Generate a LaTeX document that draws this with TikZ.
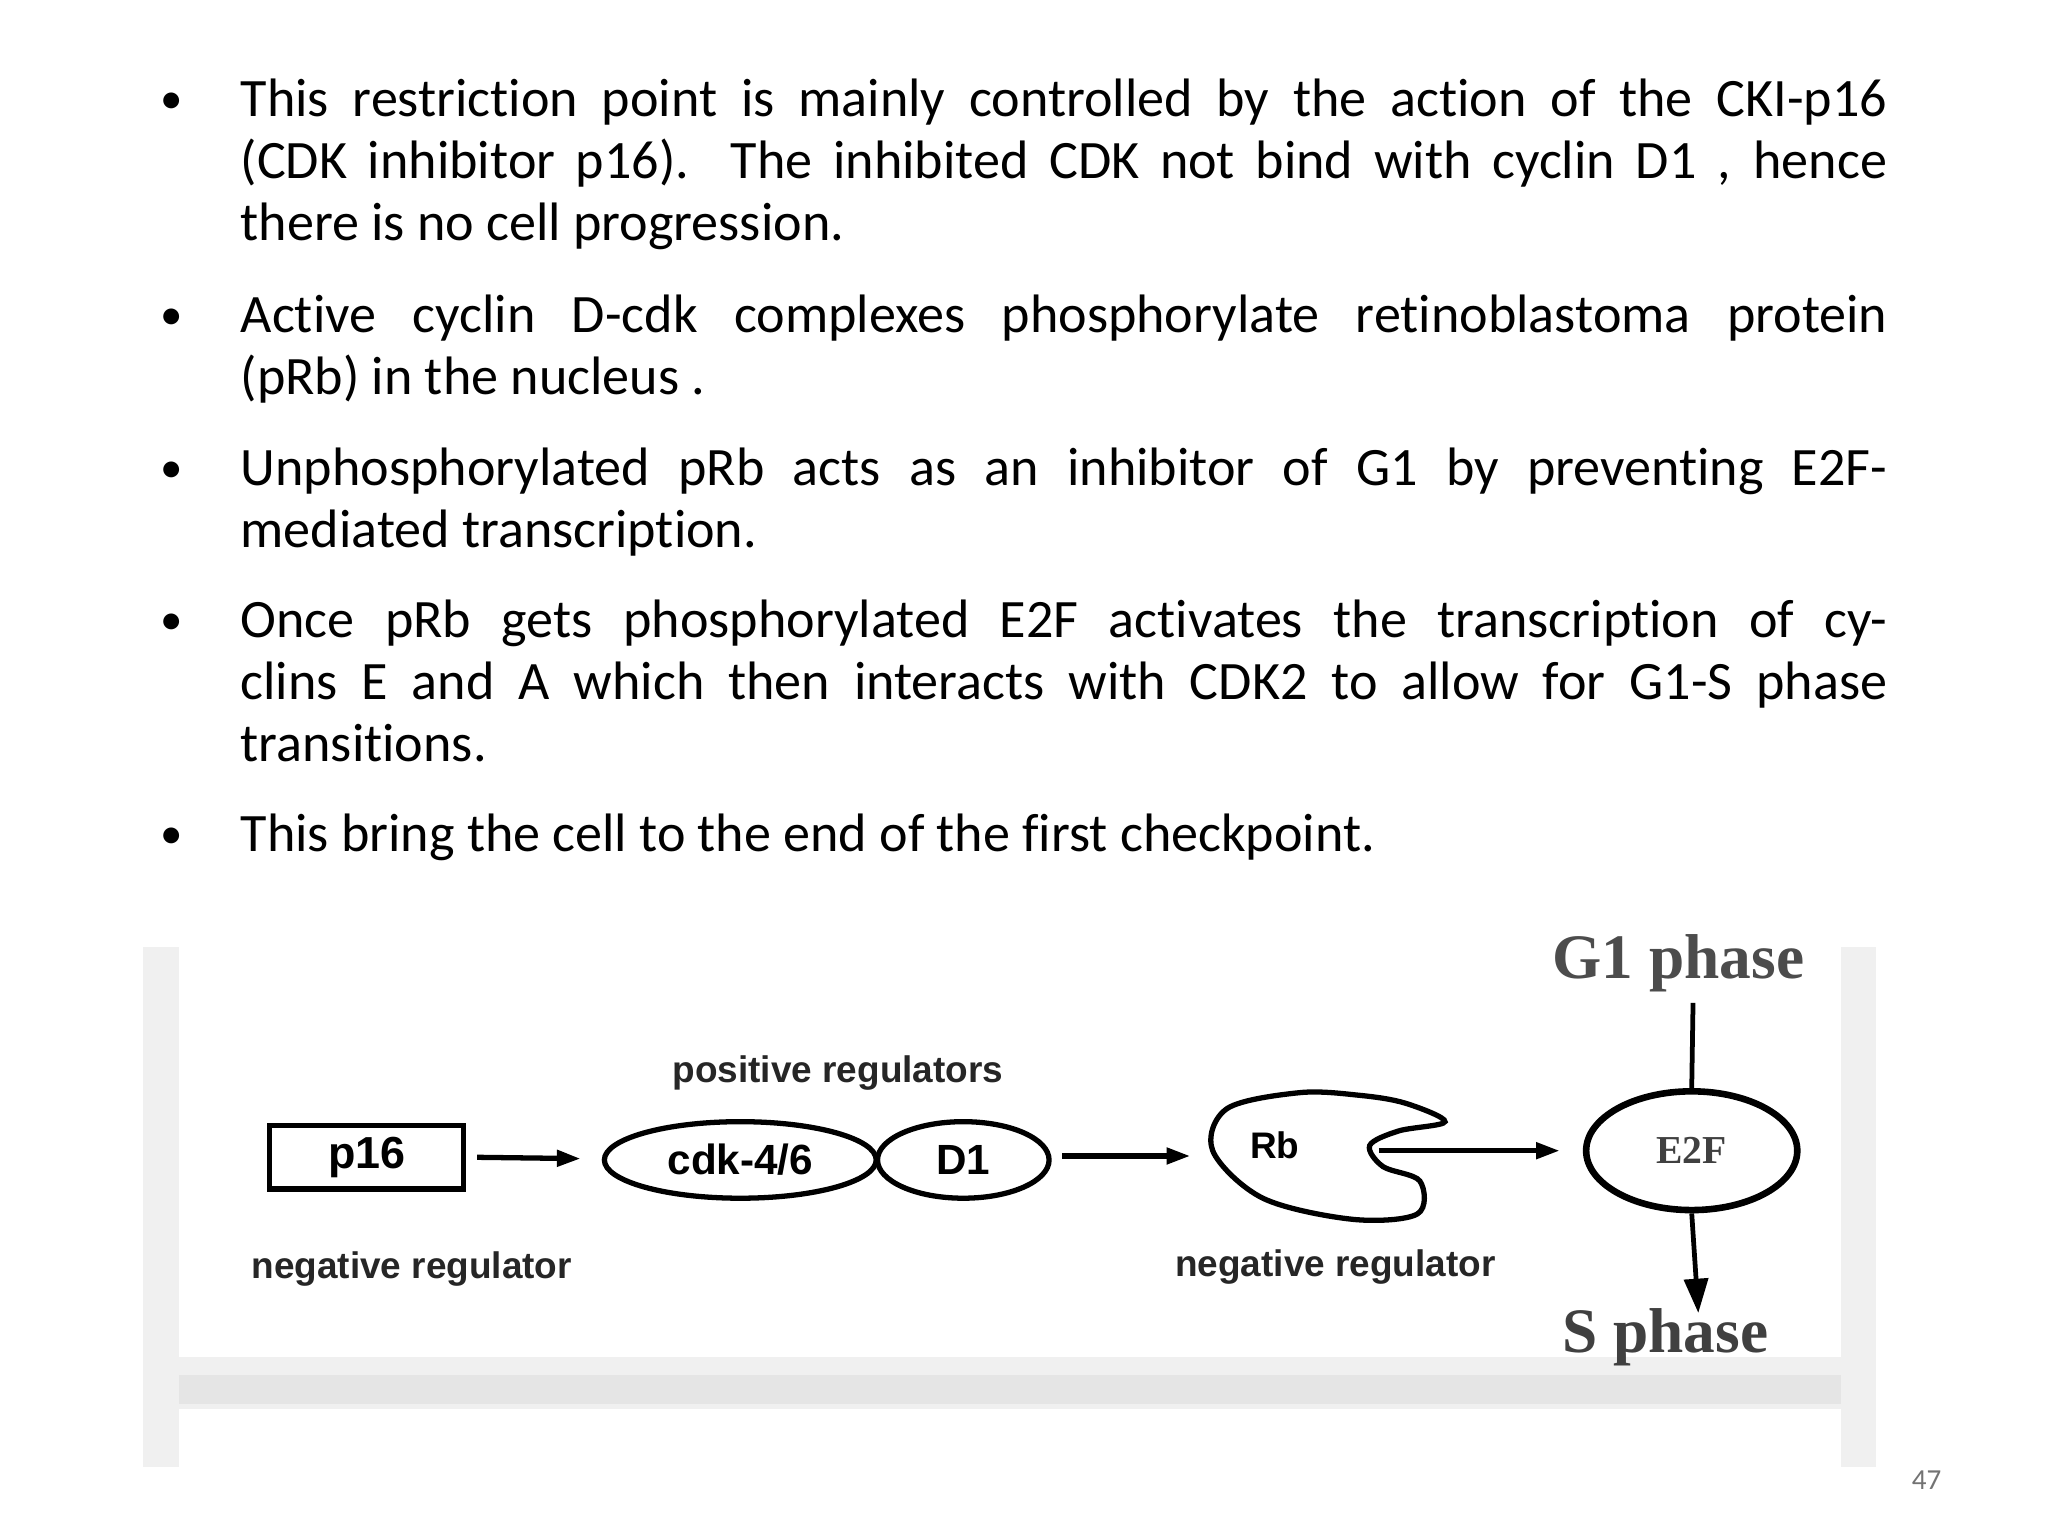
\documentclass[tikz,border=0pt]{standalone}
\usepackage{fontspec}
\setmainfont[Ligatures={NoCommon}]{Carlito}
\newfontfamily\dsans{Liberation Sans}
\newfontfamily\dserif{Liberation Serif}
\usetikzlibrary{shapes.geometric,arrows.meta}
\newcommand\nohyph{\hyphenpenalty=10000 \exhyphenpenalty=10000 \relax}
\begin{document}
\begin{tikzpicture}[x=0.5pt,y=-0.5pt,
  para/.style={anchor=base west,text width=624pt,align=justify,inner sep=0pt,font=\fontsize{20.5pt}{23.5pt}\selectfont},
  bul/.style={anchor=base,inner sep=0pt,font=\fontsize{17pt}{23.5pt}\selectfont},
  lab/.style={font=\dsans\bfseries\fontsize{14pt}{15pt}\selectfont,text=black!85},
  arr/.style={-{Triangle[length=9pt,width=6pt]},line width=2pt},
  thick2/.style={line width=2pt}]
\useasboundingbox (0,0) rectangle (1552,1164);
\fill[white] (0,0) rectangle (1552,1164);
% text
\node[bul] (b1) at (130,86) {•};
\node[para] (t1) at (182,88) {\nohyph This restriction point is mainly controlled by the action of the CKI-p16 (CDK inhibitor p16). The inhibited CDK not bind with cyclin D1 , hence\linebreak there is no cell progression.};
\node[bul] (b2) at (130,250) {•};
\node[para] (t2) at (182,252) {\nohyph Active cyclin D-cdk complexes phosphorylate retinoblastoma protein\linebreak (pRb) in the nucleus .};
\node[bul] (b3) at (130,366) {•};
\node[para] (t3) at (182,368) {\nohyph Unphosphorylated pRb acts as an inhibitor of G1 by preventing E2F-\linebreak mediated transcription.};
\node[bul] (b4) at (130,481) {•};
\node[para] (t4) at (182,483) {\nohyph Once pRb gets phosphorylated E2F activates the transcription of cyclins E and A which then interacts with CDK2 to allow for G1-S phase\linebreak transitions.};
\node[bul] (b5) at (130,643) {•};
\node[para] (t5) at (182,645) {\nohyph This bring the cell to the end of the first checkpoint.};
% panel
\fill[black!6] (108,718) rectangle (1422,1112);
\fill[white] (136,718) rectangle (1395,1028);
\fill[black!10] (136,1042) rectangle (1395,1064);
\fill[white] (136,1068) rectangle (1395,1112);
% diagram
\node[draw,thick2,minimum width=73.5pt,minimum height=24pt,font=\dsans\bfseries\fontsize{17pt}{18pt}\selectfont] (p16) at (278,877) {p16};
\node[draw,thick2,ellipse,minimum width=103pt,minimum height=29pt,inner sep=0pt,font=\dsans\bfseries\fontsize{16pt}{17pt}\selectfont] (cdk) at (561,879) {cdk-4/6};
\node[draw,thick2,ellipse,minimum width=65pt,minimum height=29pt,inner sep=0pt,font=\dsans\bfseries\fontsize{16pt}{17pt}\selectfont] (d1) at (730,879) {D1};
\draw[thick2] plot[smooth cycle,tension=0.55] coordinates {(1030,830) (1065,836) (1095,850) (1060,857) (1038,868) (1048,884) (1076,895) (1074,920) (1025,924) (957,908) (919,872) (930,840) (985,828)};
\node[font=\dsans\bfseries\fontsize{14pt}{15pt}\selectfont] (rb) at (966,868) {Rb};
\coordinate (rbr) at (1045,872);
\node[draw,line width=2.5pt,ellipse,minimum width=80pt,minimum height=45pt,inner sep=0pt,font=\dserif\bfseries\fontsize{15pt}{16pt}\selectfont,text=black!75] (e2f) at (1282,872) {E2F};
\draw[arr] (p16.east) ++(8,0) coordinate (pa) -- (440,878);
\draw[arr] (805,876) coordinate (da) -- (902,876);
\draw[arr] (rbr) -- (1182,872);
\node[font=\dserif\bfseries\fontsize{24pt}{25pt}\selectfont,text=black!70] (g1) at (1272,730) {G1 phase};
\node[font=\dserif\bfseries\fontsize{24pt}{25pt}\selectfont,text=black!75] (sp) at (1262,1013) {S phase};
\coordinate (g1b) at (1283,760);
\coordinate (spt) at (1287,995);
\draw[line width=1.8pt] (g1b) -- (e2f.north);
\draw[line width=1.8pt,-{Triangle[length=13pt,width=9pt]}] (e2f.south) -- (spt);
\node[lab] (pos) at (635,813) {positive regulators};
\node[lab] (neg1) at (312,962) {negative regulator};
\node[lab] (neg2) at (1012,960) {negative regulator};
\node[text=black!55,font=\fontsize{11pt}{12pt}\selectfont] (pg) at (1460,1122) {47};
\end{tikzpicture}
\end{document}
